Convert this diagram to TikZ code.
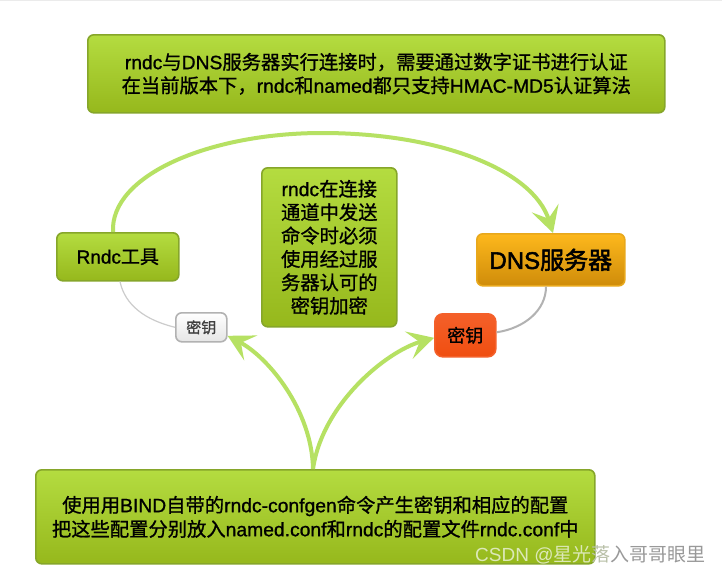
\documentclass[tikz,border=0pt]{standalone}
\usepackage{fontspec}
\setmainfont{Liberation Sans}[FakeBold=1]
\newfontfamily\cjk{Noto Sans CJK SC}[FakeBold=1]
\newfontfamily\heavylatin{Liberation Sans}[FakeBold=2.2]
\newfontfamily\heavycjk{Noto Sans CJK SC}[FakeBold=2.2]
\newfontfamily\wmlatin{Liberation Sans}
\newfontfamily\wmcjk{Noto Sans CJK SC}
\usetikzlibrary{arrows.meta,calc}
\newcommand{\C}[1]{{\cjk #1}}
\definecolor{gtop}{HTML}{B4DC40}
\definecolor{gbot}{HTML}{96B81C}
\definecolor{gedge}{HTML}{86A62A}
\definecolor{link}{HTML}{B6E163}
\definecolor{otop}{HTML}{FDB81C}
\definecolor{obot}{HTML}{CF8C0A}
\definecolor{oedge}{HTML}{E8A81C}
\definecolor{rtop}{HTML}{F4602A}
\definecolor{rbot}{HTML}{F04E10}
\definecolor{wmlight}{HTML}{DCE8B8}
\definecolor{wmgrey}{HTML}{999999}
\tikzset{
  x=1pt,y=-1pt,
  box/.style={rounded corners=6pt,line width=1.6pt,draw=gedge,top color=gtop,bottom color=gbot,
    align=center,inner sep=0pt,anchor=north west,text=black},
  link/.style={draw=link,line width=4pt},
  thead/.style={-{Stealth[length=26pt,width=28pt,inset=11pt]}},
  soft/.style={draw=#1,line width=1.2pt},
}
\begin{document}
\begin{tikzpicture}
\useasboundingbox (0,0) rectangle (722,574);
\fill[white] (0,0) rectangle (722,574);
\fill[black!8] (0,0) rectangle (722,1);
\node[box,minimum width=577pt,minimum height=78pt,font=\fontsize{19.3}{23.5}\selectfont] (top) at (87,34)
 {rndc\C{与}DNS\C{服务器实行连接时，需要通过数字证书进行认证}\\
  \C{在当前版本下，}rndc\C{和}named\C{都只支持}HMAC-MD5\C{认证算法}};
\node[box,minimum width=122pt,minimum height=48pt,font=\fontsize{19}{22}\selectfont] (rndc) at (56,232) {Rndc\C{工具}};
\node[box,minimum width=135pt,minimum height=159pt,font=\fontsize{19.3}{23.4}\selectfont] (mid) at (261,167)
 {rndc\C{在连接}\\\C{通道中发送}\\\C{命令时必须}\\\C{使用经过服}\\\C{务器认可的}\\\C{密钥加密}};
\node[box,minimum width=148pt,minimum height=52pt,draw=oedge,top color=otop,bottom color=obot,
  font=\fontsize{24}{28}\selectfont] (dns) at (476,233) {{\heavylatin DNS}{\heavycjk 服务器}};
\node[box,minimum width=51pt,minimum height=29pt,draw=black!30,top color=white,bottom color=black!10,font=\fontsize{15}{17}\selectfont\cjk,text=black!75] (k1) at (175,312) {密钥};
\node[box,minimum width=61pt,minimum height=43pt,rounded corners=8pt,draw=rtop,top color=rtop,bottom color=rbot,font=\fontsize{18}{20}\selectfont\cjk] (k2) at (434,313) {密钥};
\node[box,minimum width=559pt,minimum height=94pt,font=\fontsize{19.3}{24}\selectfont] (bot) at (35,469)
 {\C{使用用}BIND\C{自带的}rndc-confgen\C{命令产生密钥和相应的配置}\\
  \C{把这些配置分别放入}named.conf\C{和}rndc\C{的配置文件}rndc.conf\C{中}};
\draw[soft=black!20] ($(rndc.south west)+(64,0)$) .. controls (125,305) and (145,320) .. (k1.west);
\draw[soft=black!30,line width=2pt] ($(dns.south west)+(70,0)$) .. controls (546,310) and (525,328) .. ($(k2.east)+(0,-3)$);
\draw[link,thead] ($(rndc.north west)+(57,0)$) .. controls (110,175) and (210,133) .. (322,133)
   .. controls (440,133) and (533,170) .. ($(dns.north west)+(77,0)$);
\draw[link,thead] ($(bot.north west)+(278,0)$) .. controls (312,410) and (268,357) .. ($(k1.east)+(0,8.5)$);
\draw[link,thead] ($(bot.north west)+(278,0)$) .. controls (322,405) and (385,352) .. ($(k2.west)+(0,2.5)$);
\node[anchor=base west,font=\fontsize{19}{22}\selectfont,inner sep=0pt] (wm) at (475,561)
 {\wmlatin\textcolor{wmlight}{CSDN @}{\wmcjk\textcolor{wmlight}{星光}\textcolor{wmlight!50!wmgrey}{落}\textcolor{wmgrey}{入哥哥眼里}}};
\end{tikzpicture}
\end{document}
